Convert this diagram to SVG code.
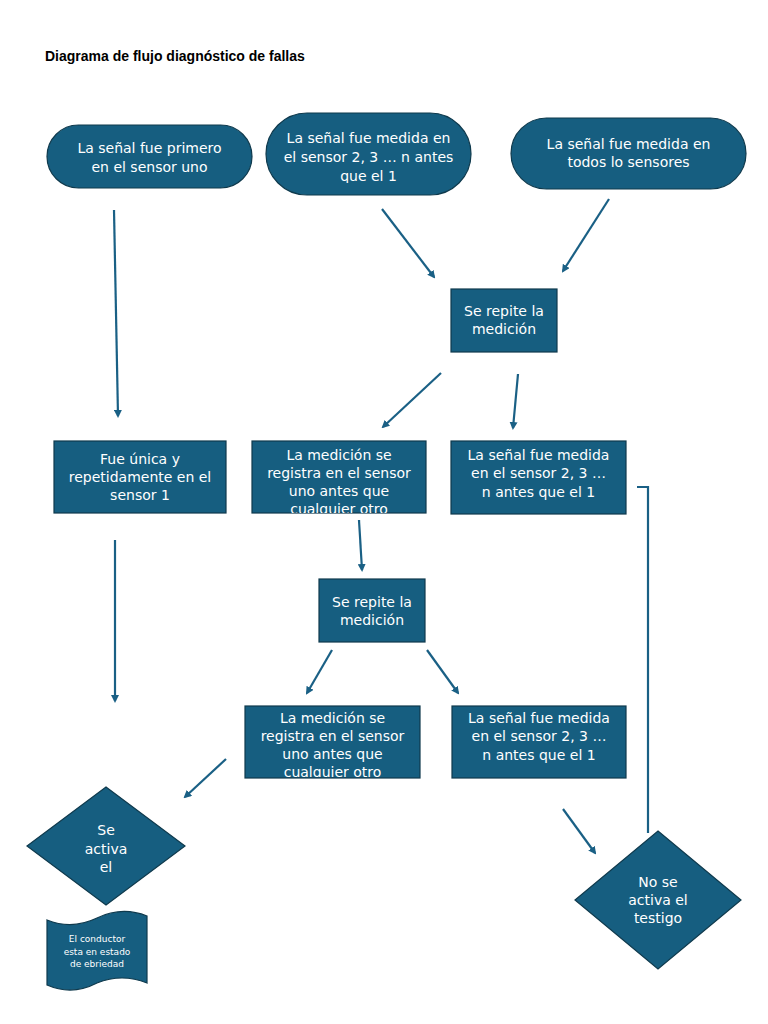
<svg xmlns="http://www.w3.org/2000/svg" width="768" height="1024" viewBox="0 0 768 1024">
<style>
.n{fill:#165e80;stroke:#0f3a4d;stroke-width:1.2}
.t{font-family:"DejaVu Sans",sans-serif;font-size:14px;fill:#fff;text-anchor:middle}
.s{font-family:"DejaVu Sans",sans-serif;font-size:9px;fill:#fff;text-anchor:middle}
.c{stroke:#1a6085;stroke-width:2.2;fill:none}
</style>
<defs>
<marker id="a" markerWidth="8" markerHeight="8" refX="6" refY="4" orient="auto" markerUnits="userSpaceOnUse"><path d="M0,0 L8,4 L0,8 Z" fill="#1a6085"/></marker>
<clipPath id="c2"><rect x="266" y="113" width="205" height="70"/></clipPath>
<clipPath id="c6"><rect x="252" y="441" width="174" height="72"/></clipPath>
<clipPath id="c9"><rect x="245" y="706" width="175" height="71"/></clipPath>
</defs>
<rect width="768" height="1024" fill="#fff"/>
<text x="45" y="61" font-family="Liberation Sans,sans-serif" font-size="14" font-weight="bold">Diagrama de flujo diagnóstico de fallas</text>
<g id="connectors">
<line class="c" x1="114" y1="210" x2="118" y2="416" marker-end="url(#a)"/>
<line class="c" x1="382" y1="209" x2="434" y2="277" marker-end="url(#a)"/>
<line class="c" x1="609" y1="199" x2="563" y2="271" marker-end="url(#a)"/>
<line class="c" x1="441" y1="373" x2="383" y2="427" marker-end="url(#a)"/>
<line class="c" x1="518" y1="374" x2="513" y2="428" marker-end="url(#a)"/>
<line class="c" x1="115" y1="540" x2="115" y2="701" marker-end="url(#a)"/>
<line class="c" x1="359" y1="520" x2="362" y2="570" marker-end="url(#a)"/>
<line class="c" x1="332" y1="650" x2="307" y2="693" marker-end="url(#a)"/>
<line class="c" x1="427" y1="650" x2="458" y2="693" marker-end="url(#a)"/>
<line class="c" x1="226" y1="759" x2="185" y2="797" marker-end="url(#a)"/>
<line class="c" x1="563" y1="809" x2="595" y2="853" marker-end="url(#a)"/>
<polyline class="c" stroke-width="3" points="648,833 648,487 637,487"/>
</g>
<g id="n1"><rect class="n" x="47" y="125" width="205" height="63" rx="31.5"/><text class="t"><tspan x="149.5" y="153">La señal fue primero</tspan><tspan x="149.5" y="172">en el sensor uno</tspan></text></g>
<g id="n2"><rect class="n" x="266" y="113" width="205" height="82" rx="41"/><text class="t" clip-path="url(#c2)"><tspan x="368.5" y="143">La señal fue medida en</tspan><tspan x="368.5" y="162">el sensor 2, 3 … n antes</tspan><tspan x="368.5" y="181">que el 1</tspan></text></g>
<g id="n3"><rect class="n" x="511" y="118" width="235" height="71" rx="35.5"/><text class="t"><tspan x="628.5" y="149">La señal fue medida en</tspan><tspan x="628.5" y="167">todos lo sensores</tspan></text></g>
<g id="n4"><rect class="n" x="451" y="289" width="106" height="63"/><text class="t"><tspan x="504" y="316">Se repite la</tspan><tspan x="504" y="334">medición</tspan></text></g>
<g id="n5"><rect class="n" x="54" y="441" width="172" height="72"/><text class="t"><tspan x="140" y="464">Fue única y</tspan><tspan x="140" y="482">repetidamente en el</tspan><tspan x="140" y="500">sensor 1</tspan></text></g>
<g id="n6"><rect class="n" x="252" y="441" width="174" height="72"/><text class="t" clip-path="url(#c6)"><tspan x="339" y="460">La medición se</tspan><tspan x="339" y="478">registra en el sensor</tspan><tspan x="339" y="496">uno antes que</tspan><tspan x="339" y="514">cualquier otro</tspan></text></g>
<g id="n7"><rect class="n" x="451" y="441" width="175" height="73"/><text class="t"><tspan x="538.5" y="460">La señal fue medida</tspan><tspan x="538.5" y="478">en el sensor 2, 3 …</tspan><tspan x="538.5" y="497">n antes que el 1</tspan></text></g>
<g id="n8"><rect class="n" x="319" y="579" width="106" height="63"/><text class="t"><tspan x="372" y="607">Se repite la</tspan><tspan x="372" y="625">medición</tspan></text></g>
<g id="n9"><rect class="n" x="245" y="706" width="175" height="72"/><text class="t" clip-path="url(#c9)"><tspan x="332.5" y="723">La medición se</tspan><tspan x="332.5" y="741">registra en el sensor</tspan><tspan x="332.5" y="759">uno antes que</tspan><tspan x="332.5" y="777">cualquier otro</tspan></text></g>
<g id="n10"><rect class="n" x="452" y="706" width="174" height="72"/><text class="t"><tspan x="539" y="723">La señal fue medida</tspan><tspan x="539" y="741">en el sensor 2, 3 …</tspan><tspan x="539" y="760">n antes que el 1</tspan></text></g>
<g id="n11"><polygon class="n" points="106,787 185,846 106,905 27,846"/><text class="t"><tspan x="106" y="835">Se</tspan><tspan x="106" y="854">activa</tspan><tspan x="106" y="872">el</tspan></text></g>
<g id="n12"><polygon class="n" points="658,831 741,900 658,969 575,900"/><text class="t"><tspan x="658" y="887">No se</tspan><tspan x="658" y="905">activa el</tspan><tspan x="658" y="923">testigo</tspan></text></g>
<g id="n13"><path class="n" d="M47,920 Q72,930 97,918 Q122,906 147,916 L147,983 Q122,973 97,983 Q72,996 47,985 Z"/><text class="s"><tspan x="97" y="942">El conductor</tspan><tspan x="97" y="955">esta en estado</tspan><tspan x="97" y="967">de ebriedad</tspan></text></g>
</svg>
